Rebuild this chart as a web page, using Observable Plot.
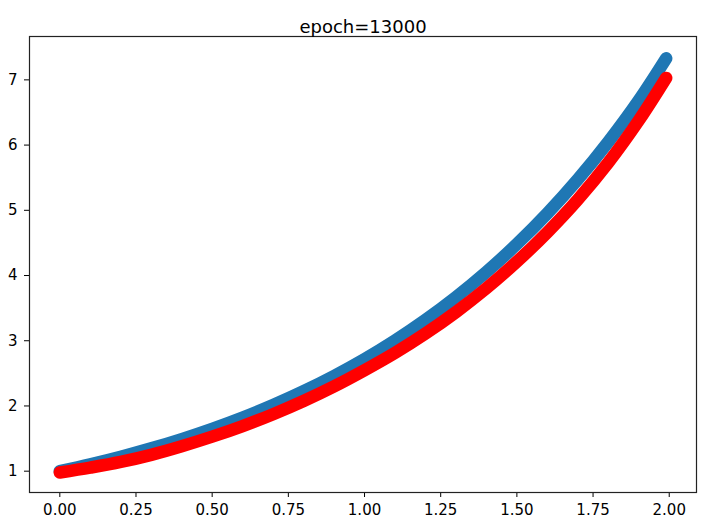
<!DOCTYPE html>
<html>
<head>
<meta charset="utf-8">
<script src="https://cdn.jsdelivr.net/npm/d3@7"></script>
<script src="https://cdn.jsdelivr.net/npm/@observablehq/plot@0.6"></script>
<style>
  html, body { margin: 0; padding: 0; background: #fff; }
  svg { font-family: "DejaVu Sans", sans-serif; }
</style>
</head>
<body>
<div id="chart"></div>
<script>
const title = "epoch=13000";
const xs = [0, 0.1, 0.2, 0.3, 0.4, 0.5, 0.6, 0.7, 0.8, 0.9, 1.0, 1.1, 1.2, 1.3, 1.4, 1.5, 1.6, 1.7, 1.8, 1.9, 1.99];
const blueY = [1.00, 1.105, 1.221, 1.350, 1.492, 1.649, 1.822, 2.014, 2.226, 2.460, 2.718, 3.004, 3.320, 3.669, 4.055, 4.482, 4.953, 5.474, 6.050, 6.686, 7.33];
const redY = [0.98, 1.055, 1.141, 1.250, 1.382, 1.529, 1.692, 1.874, 2.076, 2.300, 2.548, 2.814, 3.110, 3.439, 3.805, 4.212, 4.663, 5.164, 5.730, 6.376, 7.03];
const xTicks = [0, 0.25, 0.5, 0.75, 1.0, 1.25, 1.5, 1.75, 2.0];
const yTicks = [1, 2, 3, 4, 5, 6, 7];

const blue = xs.map((x, i) => ({x, y: blueY[i]}));
const red = xs.map((x, i) => ({x, y: redY[i]}));

const chart = Plot.plot({
  width: 708,
  height: 528,
  marginLeft: 29,
  marginRight: 12,
  marginTop: 36,
  marginBottom: 36,
  style: {fontFamily: "DejaVu Sans, sans-serif", fontSize: "15px", color: "black", background: "white"},
  x: {domain: [-0.0995, 2.0895], ticks: xTicks, tickFormat: d3.format(".2f"), tickSize: 5, tickPadding: 7, label: null},
  y: {domain: [0.673, 7.665], ticks: yTicks, tickFormat: d3.format("d"), tickSize: 5, tickPadding: 7, label: null},
  marks: [
    Plot.line(blue, {x: "x", y: "y", stroke: "#1f77b4", strokeWidth: 12.5, strokeLinecap: "round", strokeLinejoin: "round", curve: "catmull-rom"}),
    Plot.line(red, {x: "x", y: "y", stroke: "red", strokeWidth: 12.5, strokeLinecap: "round", strokeLinejoin: "round", curve: "catmull-rom"}),
    Plot.frame({stroke: "#222", strokeWidth: 1.2}),
    Plot.text([title], {frameAnchor: "top", dy: -16, fontSize: 18, fill: "black"})
  ]
});
document.getElementById("chart").appendChild(chart);
</script>
</body>
</html>
